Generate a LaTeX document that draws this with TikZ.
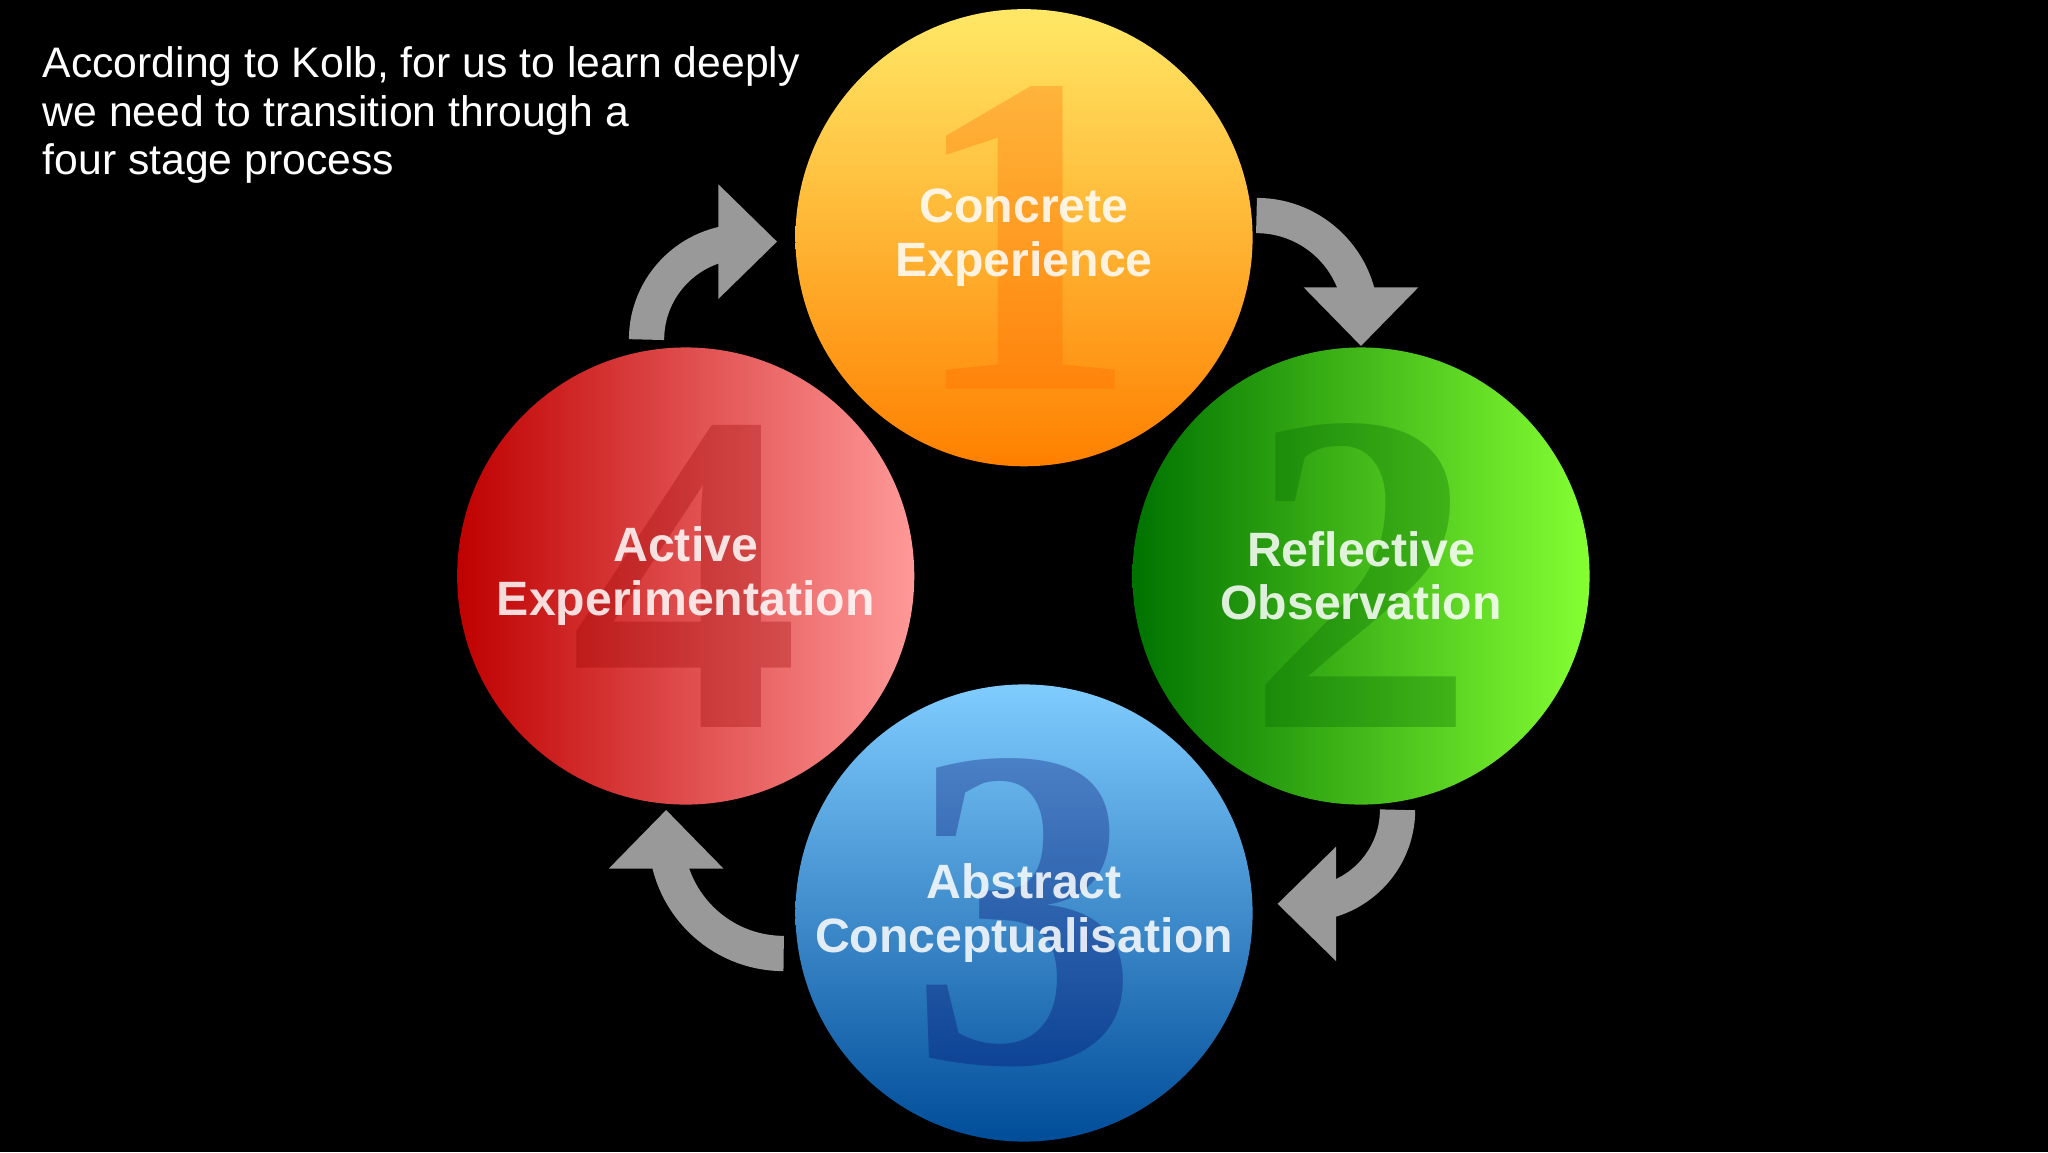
\documentclass[tikz,border=0pt]{standalone}
\usepackage{fontspec}
\setmainfont{Liberation Sans}
\newfontfamily\numfont{Liberation Serif}
\usetikzlibrary{arrows.meta}
\begin{document}
\begin{tikzpicture}[
  stage/.style={circle,minimum size=3.5cm,inner sep=0pt},
  lbl/.style={font=\bfseries\fontsize{10.5}{11.6}\selectfont,align=center,text=white,text opacity=0.85},
  num/.style={font=\numfont\bfseries\fontsize{100}{100}\selectfont,text opacity=0.3},
  arr/.style={line width=0.27cm,draw=gray!80,-{Triangle[width=0.85cm,length=0.45cm]}}]
\fill[black] (0,0) rectangle (15.68,8.82);
\node[stage,top color=yellow!70!orange!60,bottom color=orange] (c1) at (7.84,7.0) {};
\node[stage,left color=green!45!black,right color=green!60!yellow!80] (c2) at (10.42,4.41) {};
\node[stage,top color=cyan!60!blue!50,bottom color=blue!50!cyan!60!black] (c3) at (7.84,1.83) {};
\node[stage,left color=red!75!black,right color=red!40!white] (c4) at (5.25,4.41) {};
\node[num,text=orange!80!red] at (c1) {1};
\node[num,text=green!40!black] at (c2) {2};
\node[num,text=blue!40!black] at (c3) {3};
\node[num,text=red!60!black] at (c4) {4};
\node[lbl] at (c1) {Concrete\\Experience};
\node[lbl] at (c2) {Reflective\\Observation};
\node[lbl] at (c3) {Abstract\\Conceptualisation};
\node[lbl] at (c4) {Active\\Experimentation};
\coordinate (a1) at (9.62,7.17);
\coordinate (a2) at (10.70,2.62);
\coordinate (a3) at (6.00,1.52);
\coordinate (a4) at (4.95,6.22);
\draw[arr] (a1) arc[start angle=90,end angle=0,radius=0.8] -- ++(0,-0.2);
\draw[arr] (a2) arc[start angle=0,end angle=-90,radius=0.72] -- ++(-0.2,0);
\draw[arr] (a3) arc[start angle=270,end angle=180,radius=0.9] -- ++(0,0.2);
\draw[arr] (a4) arc[start angle=180,end angle=90,radius=0.75] -- ++(0.25,0);
\node[anchor=north west,align=left,text=white,font=\fontsize{9.3}{10.6}\selectfont,inner sep=0pt] (intro) at (0.32,8.47)
 {According to Kolb, for us to learn deeply\\we need to transition through a\\four stage process};
\end{tikzpicture}
\end{document}
